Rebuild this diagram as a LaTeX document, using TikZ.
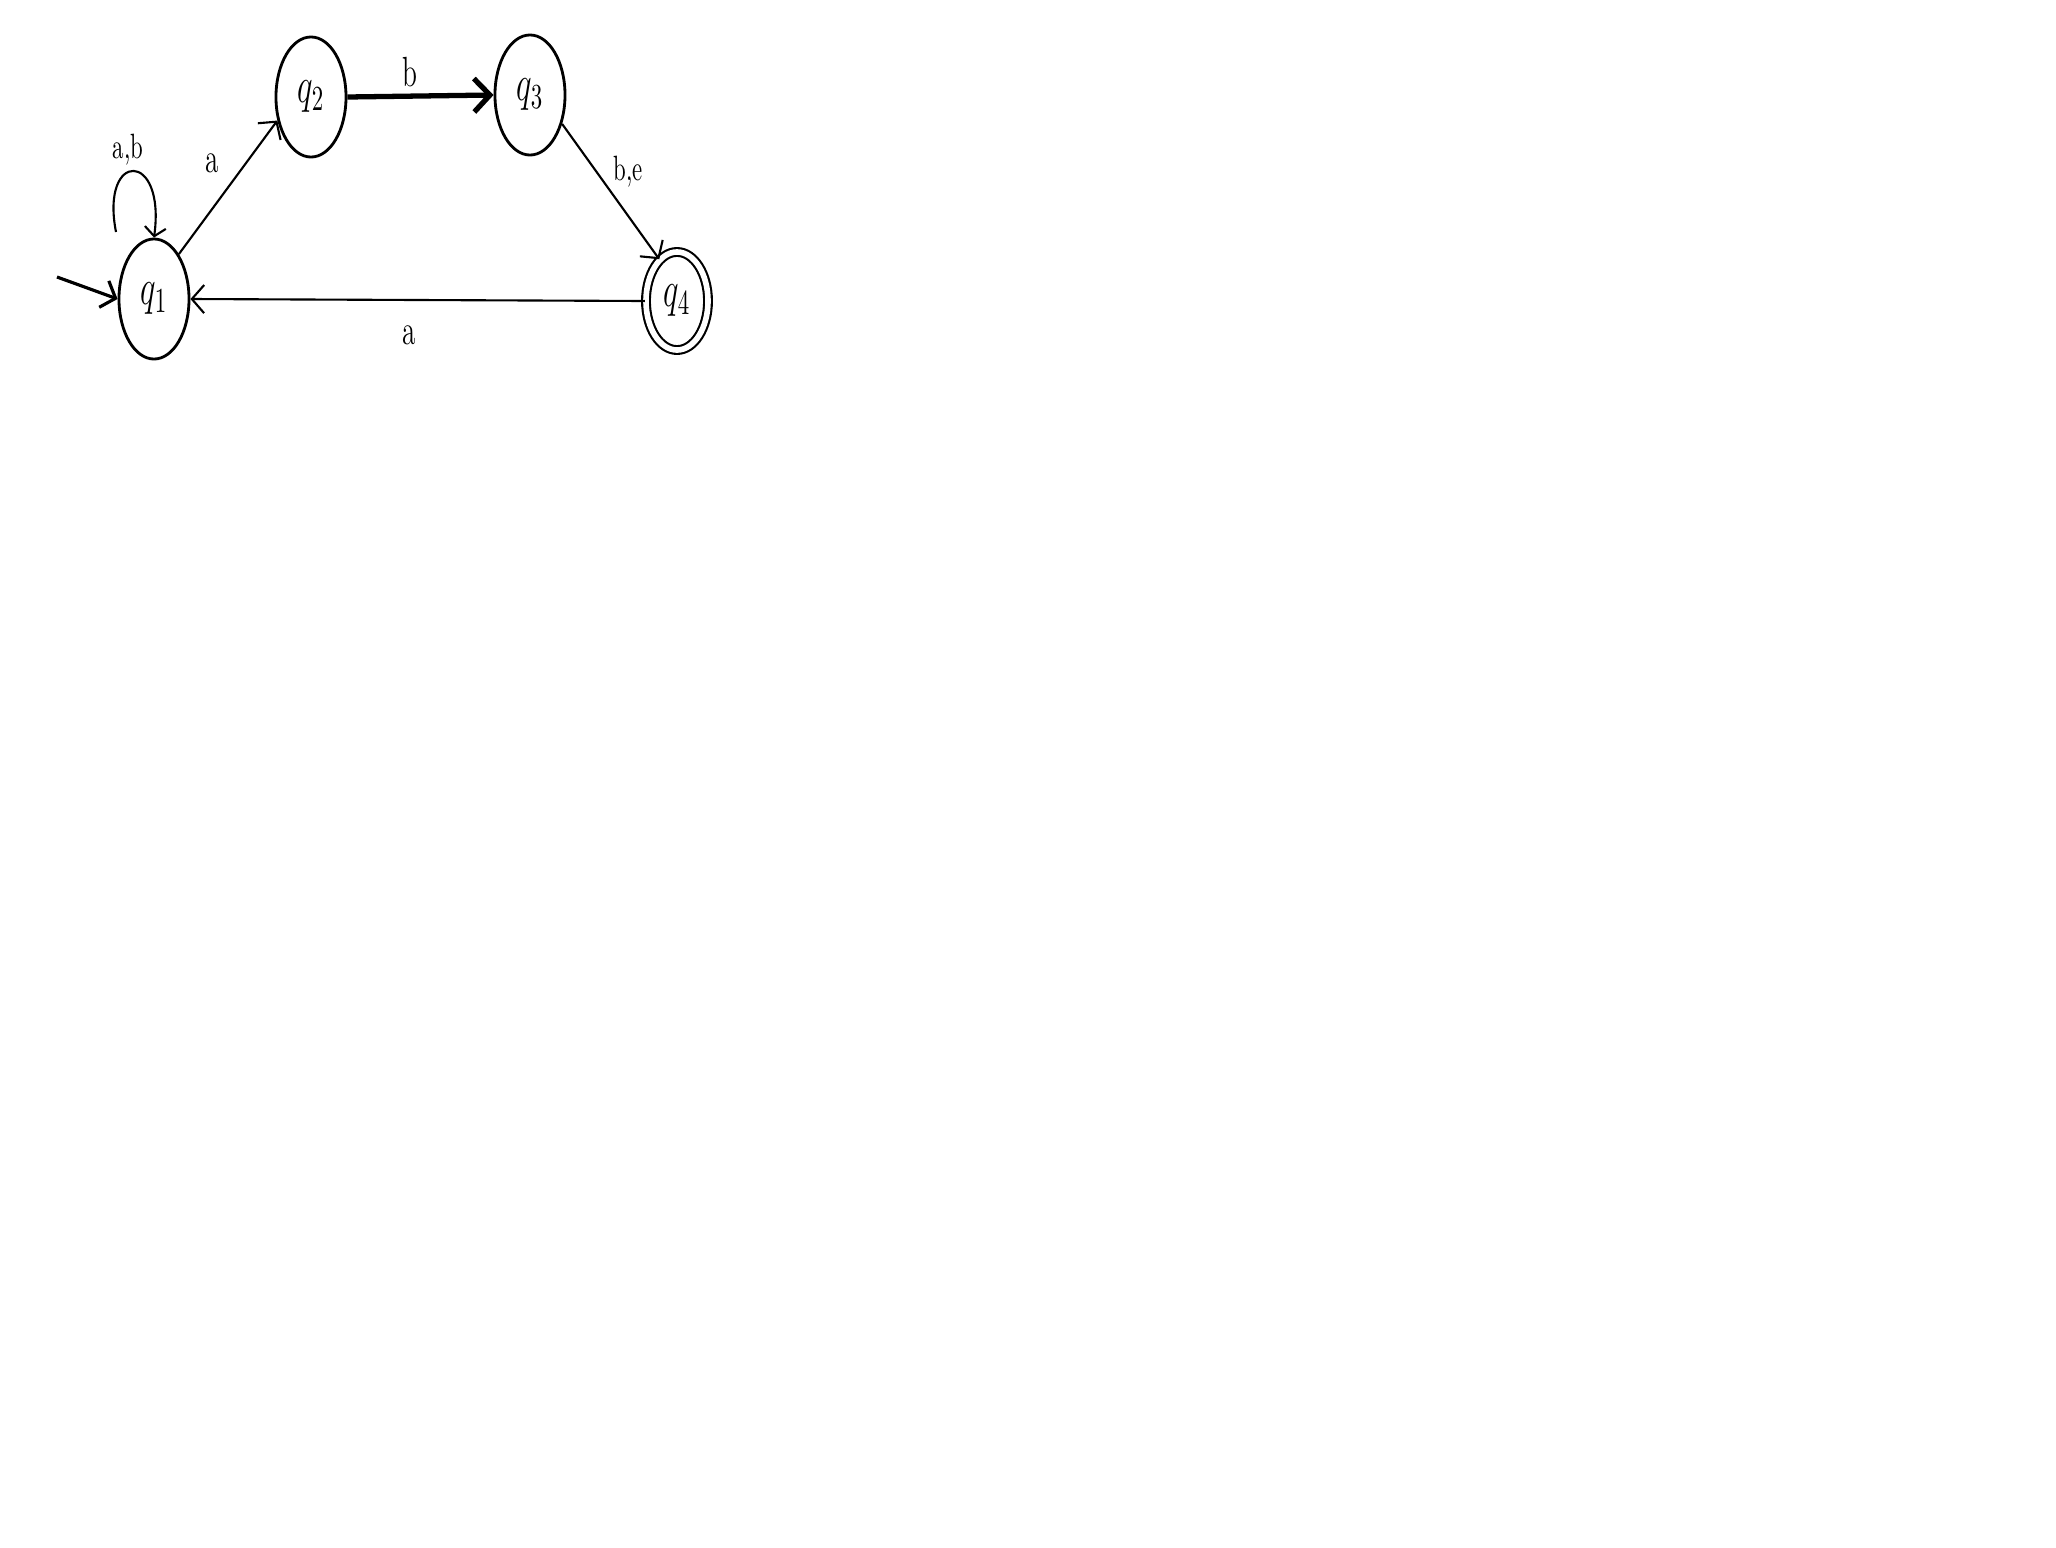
\documentclass[tikz,border=0pt]{standalone}
\usepackage{graphicx}
\usetikzlibrary{shapes.geometric,positioning,arrows.meta}
\def\narrowratio{0.65}
\newcommand\narrow[1]{\scalebox{\narrowratio}[1]{#1}}
\begin{document}
\begin{tikzpicture}[
        x=0.01cm,y=-0.01cm,
        state/.style={%
            draw,ellipse,
            line width=0.8pt,
            minimum width=0.70cm,
            minimum height=1.20cm,
            inner sep=0pt,
            font=\Large,
        },
        accepting/.style={%
            state,
            double,double distance=1.6pt,line width=0.6pt,
            minimum width=0.62cm,
            minimum height=0.98cm,
        },
        edge/.style={-{Straight Barb[length=3.5pt,width=8pt]},line width=0.6pt},
        lbl/.style={inner sep=0pt,font=\large},
    ]
    \useasboundingbox (0,0) rectangle (2056,1548);
    % states
    \node[state] (q1) at (154,299) {\narrow{$q_1$}};
    \node[state] (q2) at (311,97) {\narrow{$q_2$}};
    \node[state] (q3) at (530,95) {\narrow{$q_3$}};
    \node[accepting] (q4) at (677,301) {\narrow{$q_4$}};
    % initial arrow and loop
    \coordinate (init) at (57,277);
    \coordinate (loopstart) at (116,232);
    \draw[edge,line width=0.9pt] (init) -- (q1.west);
    \draw[edge,-{Straight Barb[length=2.5pt,width=6pt]}] (loopstart) .. controls (100,150) and (166,150) .. (q1.north);
    \node[lbl,font=\normalsize] (lab) at (128,150) {\narrow{a,b}};
    % transitions
    \draw[edge] (q1.61) -- (q2.215) node[lbl,pos=0.68,left=7.4pt] (la) {\narrow{a}};
    \draw[edge,line width=1.5pt,-{Straight Barb[length=4.5pt,width=9.5pt]}] (q2.east) -- (q3.west) node[lbl,pos=0.43,above=2pt] (lb) {\narrow{b}};
    \draw[edge] (q3.-42) -- (q4.113) node[lbl,pos=0.355,right=4.5pt,font=\normalsize] (lbe) {\narrow{b,e}};
    \draw[edge] (q4.west) -- (q1.east) node[lbl,midway,below=7pt,xshift=-2.3pt] (la2) {\narrow{a}};
\end{tikzpicture}
\end{document}
